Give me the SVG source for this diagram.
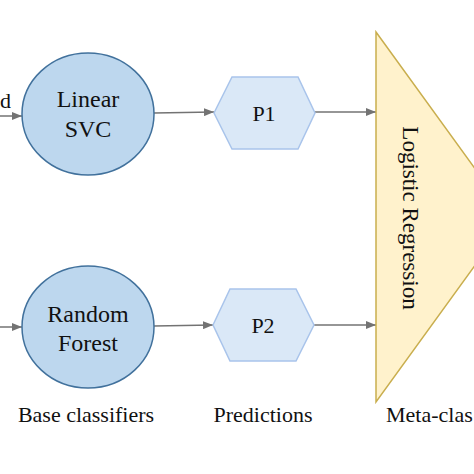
<svg xmlns="http://www.w3.org/2000/svg" width="474" height="474" viewBox="0 0 474 474">
<style>
text { font-family: "Liberation Serif", "Times New Roman", serif; font-size: 22px; fill: #111111; }
.big { font-size: 24px; }
.clf { fill: #bdd7ee; stroke: #41719c; stroke-width: 1.5; }
.pred { fill: #dae8f7; stroke: #a9c4eb; stroke-width: 1.5; }
.meta { fill: #fff2cc; stroke: #c9ae4e; stroke-width: 1.5; }
.conn { stroke: #737373; stroke-width: 1.5; fill: none; marker-end: url(#arr); }
</style>
<defs>
<marker id="arr" markerWidth="10" markerHeight="8" refX="10" refY="4" orient="auto" markerUnits="userSpaceOnUse">
<path d="M0,0 L10,4 L0,8 Z" fill="#737373"/>
</marker>
</defs>
<rect width="474" height="474" fill="#ffffff"/>
<g id="connectors">
<line class="conn" x1="0" y1="116" x2="22" y2="116"/>
<line class="conn" x1="0" y1="327" x2="22" y2="327"/>
<line class="conn" x1="154" y1="113" x2="214" y2="112"/>
<line class="conn" x1="154" y1="326" x2="213" y2="325"/>
<line class="conn" x1="315" y1="112" x2="376" y2="112"/>
<line class="conn" x1="314" y1="325" x2="376" y2="325"/>
</g>
<g id="input-label">
<text x="0" y="108">d</text>
</g>
<g id="linear-svc">
<ellipse class="clf" cx="88" cy="114" rx="66" ry="61"/>
<text class="big" x="88" y="107" text-anchor="middle">Linear</text>
<text class="big" x="88" y="137" text-anchor="middle">SVC</text>
</g>
<g id="random-forest">
<ellipse class="clf" cx="88" cy="327" rx="66" ry="61"/>
<text class="big" x="88" y="322" text-anchor="middle">Random</text>
<text class="big" x="88" y="351" text-anchor="middle">Forest</text>
</g>
<g id="p1">
<polygon class="pred" points="214,113 232,77 298,77 315,113 298,149 232,149"/>
<text x="264" y="121" text-anchor="middle">P1</text>
</g>
<g id="p2">
<polygon class="pred" points="213,325 230,289 296,289 314,325 296,361 230,361"/>
<text x="263" y="333" text-anchor="middle">P2</text>
</g>
<g id="logistic-regression">
<polygon class="meta" points="376,32 510,217 376,402"/>
<text transform="translate(403,218) rotate(90)" text-anchor="middle" style="font-size:23px">Logistic Regression</text>
</g>
<g id="column-labels">
<text x="86" y="422" text-anchor="middle">Base classifiers</text>
<text x="263" y="422" text-anchor="middle">Predictions</text>
<text x="386" y="422">Meta-clas</text>
</g>
</svg>
